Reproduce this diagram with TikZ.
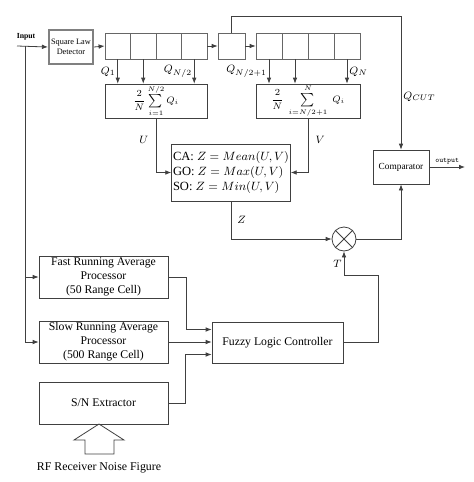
\documentclass[tikz,border=0pt]{standalone}
\usepackage{fontspec}
\setmainfont{Liberation Serif}
\usetikzlibrary{arrows.meta,positioning,calc}
\tikzset{line/.style={ % Every connector and box border
            draw=black!75,
            line width=0.6pt},
        block/.style={ % Plain rectangular processing block
            line,
            align=center,
            inner sep=1pt,
            font=\fontsize{8.8}{10.4}\selectfont},
        cell/.style={ % One cell of a shift register
            draw=black!60,
            line width=0.6pt,
            minimum width=19.125pt,
            minimum height=19.5pt,
            inner sep=0pt},
        sig/.style={ % Directed signal line
            line,
            -{Latex[length=4.5pt,width=3.5pt]}},
        lab/.style={ % Labels on the signal lines
            inner sep=1.5pt,
            font=\fontsize{8}{9}\selectfont}
        }

\begin{document}
\begin{tikzpicture}[x=0.75pt,y=-0.75pt]
    \useasboundingbox (0,0) rectangle (474,482);

    % detector and shift registers
    \node[lab,font=\bfseries\fontsize{5.8}{7}\selectfont] (inp) at (26,37) {Input};
    \coordinate (in)  at (17,46);
    \coordinate (jn)  at (25,46);
    \node[block,draw=gray,line width=1.6pt,minimum width=33pt,minimum height=26pt,
          font=\fontsize{6.2}{7.4}\selectfont] (sld) at (71,47) {Square Law\\Detector};
    \foreach \i in {1,...,4}
        \node[cell] (l\i) at ({105+25.5*(\i-0.5)},46) {};
    \node[cell,minimum width=20.25pt] (cut) at (231.5,46) {};
    \foreach \i in {1,...,4}
        \node[cell,minimum width=19.5pt] (r\i) at ({256+26*(\i-0.5)},46) {};

    % averaging blocks
    \node[block,minimum width=76.5pt,minimum height=25.5pt,inner sep=0pt,font=\fontsize{7.4}{8}\selectfont]
        (lsum) at (156,101) {$\displaystyle\frac{2}{N}\textstyle\sum\limits_{i=1}^{N/2}Q_i$};
    \node[block,minimum width=78pt,minimum height=25.5pt,inner sep=0pt,font=\fontsize{7.4}{8}\selectfont]
        (rsum) at (308,101) {$\displaystyle\frac{2}{N}\;\textstyle\sum\limits_{i=N/2+1}^{N}\;Q_i$};
    \node[block,align=left,minimum width=84pt,minimum height=42.75pt,font=\fontsize{9.4}{11.5}\selectfont]
        (cfar) at (231,172.5) {CA: $Z = Mean(U,V)$\\GO: $Z = Max(U,V)$\\SO: $Z = Min(U,V)$};
    \node[block,minimum width=42pt,minimum height=25.5pt,font=\fontsize{7}{8}\selectfont]
        (comp) at (401,167) {Comparator};
    \coordinate (out) at (465,167);
    \node[line,circle,minimum size=18pt,inner sep=0pt] (mult) at (344,239) {};
    \draw[line] (mult.north east) -- (mult.south west);
    \draw[line] (mult.north west) -- (mult.south east);

    % fuzzy threshold part
    \node[block,minimum width=96.75pt,minimum height=31.5pt] (fast) at (103.5,277) {Fast Running Average\\Processor\\(50 Range Cell)};
    \node[block,minimum width=96.75pt,minimum height=31.5pt] (slow) at (103.5,342) {Slow Running Average\\Processor\\(500 Range Cell)};
    \node[block,minimum width=96.75pt,minimum height=31.5pt] (sn)   at (103.5,403) {S/N Extractor};
    \node[block,minimum width=98.25pt,minimum height=30.75pt] (flc)  at (277.5,342.5) {Fuzzy Logic Controller};
    \node[lab,font=\fontsize{8.9}{10}\selectfont] (rf) at (99,468) {RF Receiver Noise Figure};
    \draw[line] (99,424) -- (124,440) -- (114,440) -- (114,454) -- (85,454) -- (85,440) -- (74,440) -- cycle;

    % connections
    \draw[sig] (in) -- (sld.west);
    \draw[sig] (sld.east) -- (l1.west);
    \draw[sig] (l4.east) -- (cut.west);
    \draw[sig] (cut.east) -- (r1.west);

    \draw[sig] (l1.south) -- node[lab,left] {$Q_1$} (l1.south |- lsum.north);
    \draw[sig] (l2.south) -- (l2.south |- lsum.north);
    \draw[sig] (l4.south) -- node[lab,left] {$Q_{N/2}$} (l4.south |- lsum.north);
    \draw[sig] (r1.south) -- node[lab,left] {$Q_{N/2+1}$} (r1.south |- rsum.north);
    \draw[sig] (r2.south) -- (r2.south |- rsum.north);
    \draw[sig] (r4.south) -- node[lab,right] {$Q_N$} (r4.south |- rsum.north);

    \draw[sig] (cut.north) -- ++(0,-16) -| node[lab,right,pos=0.8] {$Q_{CUT}$} (comp.north);
    \draw[sig] (comp.east) -- node[lab,above,font=\ttfamily\fontsize{5.6}{7}\selectfont] {output} (out);

    \draw[sig] (lsum.south) |- node[lab,left=4pt,pos=0.2] {$U$} (cfar.west);
    \draw[sig] (rsum.south) |- node[lab,right=4pt,pos=0.2] {$V$} (cfar.east);
    \draw[sig] (cfar.south) |- node[lab,right=3pt,pos=0.25] {$Z$} (mult.west);
    \draw[sig] (mult.east) -| (comp.south);

    \draw[sig] (jn) |- (fast.west);
    \draw[sig] (jn) |- (slow.west);
    \draw[sig] (fast.east) -- ++(18,0) |- ($(flc.west)+(0,-13)$);
    \draw[sig] (slow.east) -- (slow.east -| flc.west);
    \draw[sig] (sn.east) -- ++(17,0) |- ($(flc.west)+(0,12)$);
    \draw[sig] (flc.east) -- ++(35,0) |- ($(mult.south)+(0,24)$) -- node[lab,left] {$T$} (mult.south);
\end{tikzpicture}
\end{document}
